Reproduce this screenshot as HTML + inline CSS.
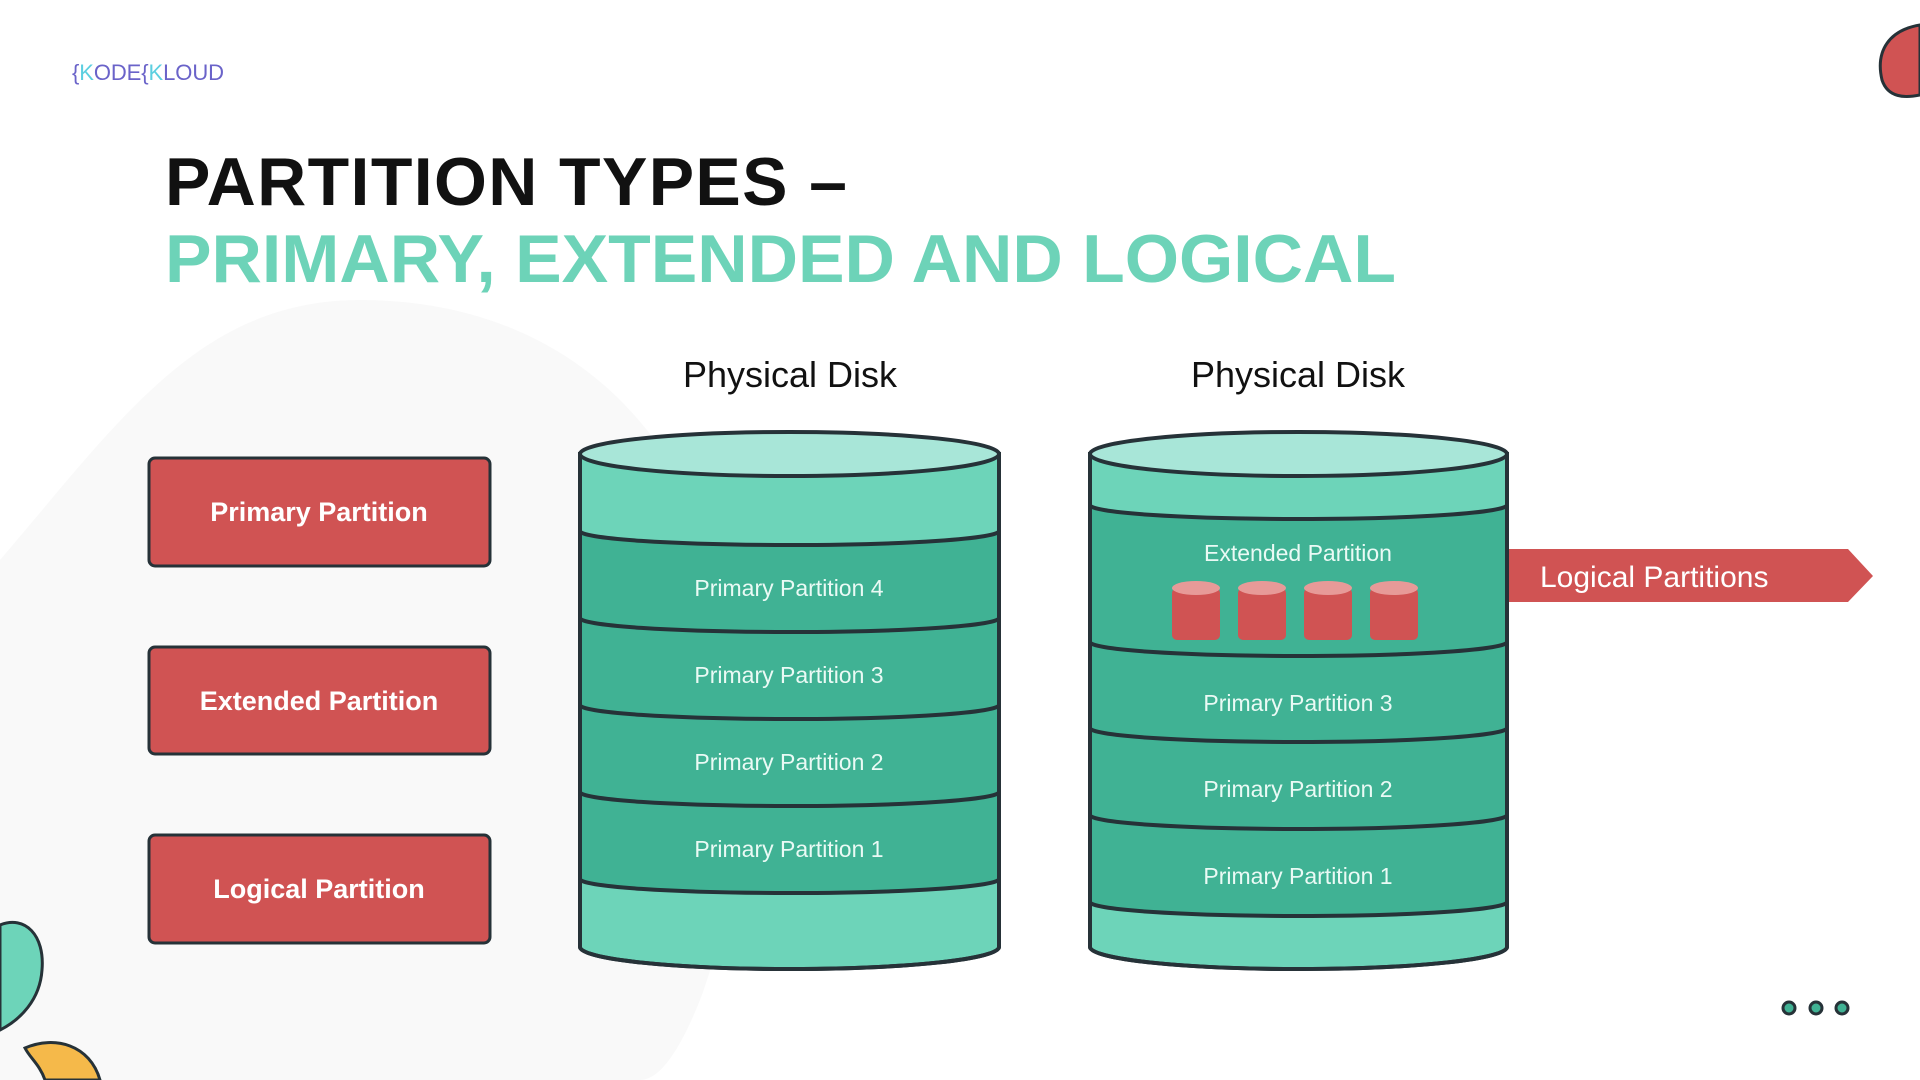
<!DOCTYPE html>
<html><head><meta charset="utf-8"><style>
html,body{margin:0;padding:0;background:#fff;}
svg{display:block;}
</style></head><body>
<svg width="1920" height="1080" viewBox="0 0 1920 1080" xmlns="http://www.w3.org/2000/svg" font-family="Liberation Sans, sans-serif">
<rect width="1920" height="1080" fill="#fff"/>
<path d="M0 560 C120 420 200 300 360 300 C520 300 640 380 700 520 C760 660 740 900 700 1000 C680 1050 660 1080 640 1080 L0 1080 Z" fill="#f9f9f9"/>
<!-- decorations -->
<path d="M1920 25 C1890 30 1875 50 1882 80 C1888 98 1905 98 1920 95 Z" fill="#d05353" stroke="#263238" stroke-width="3"/>
<path d="M0 925 C25 915 45 935 42 970 C40 1000 20 1020 0 1030 Z" fill="#6dd4b9" stroke="#263238" stroke-width="3"/>
<path d="M25 1048 C55 1035 90 1045 100 1080 L45 1080 C40 1065 30 1058 25 1048 Z" fill="#f5b94a" stroke="#263238" stroke-width="3"/>
<g fill="#40b294" stroke="#263238" stroke-width="3"><circle cx="1789" cy="1008" r="6"/><circle cx="1816" cy="1008" r="6"/><circle cx="1842" cy="1008" r="6"/></g>
<!-- logo -->
<text x="72" y="80" font-size="22" fill="#6a63c9" textLength="152">{<tspan fill="#5ccfe0">K</tspan>ODE{<tspan fill="#5ccfe0">K</tspan>LOUD</text>
<!-- title -->
<text x="165" y="205" font-size="68" font-weight="bold" fill="#111" textLength="682">PARTITION TYPES –</text>
<text x="165" y="282" font-size="68" font-weight="bold" fill="#6dd3b8" textLength="1231" lengthAdjust="spacingAndGlyphs">PRIMARY, EXTENDED AND LOGICAL</text>
<text x="790" y="387" font-size="36" fill="#111" text-anchor="middle">Physical Disk</text>
<text x="1298" y="387" font-size="36" fill="#111" text-anchor="middle">Physical Disk</text>
<!-- buttons -->
<g stroke="#263238" stroke-width="3" fill="#d05353">
<rect x="149" y="458" width="341" height="108" rx="6"/>
<rect x="149" y="647" width="341" height="107" rx="6"/>
<rect x="149" y="835" width="341" height="108" rx="6"/>
</g>
<g fill="#fff" font-size="27" font-weight="bold" text-anchor="middle">
<text x="319" y="521">Primary Partition</text>
<text x="319" y="710">Extended Partition</text>
<text x="319" y="898">Logical Partition</text>
</g>
<!-- left cylinder -->
<g stroke="#263238" stroke-width="4">
<path d="M580 454 L580 947 A209.5 22 0 0 0 999 947 L999 454 Z" fill="#6dd4b9"/>
<path d="M580 531 A209.5 14 0 0 0 999 531 L999 879 A209.5 14 0 0 1 580 879 Z" fill="#40b294" stroke="none"/>
<g fill="none">
<path d="M580 531 A209.5 14 0 0 0 999 531"/>
<path d="M580 618 A209.5 14 0 0 0 999 618"/>
<path d="M580 705 A209.5 14 0 0 0 999 705"/>
<path d="M580 792 A209.5 14 0 0 0 999 792"/>
<path d="M580 879 A209.5 14 0 0 0 999 879"/>
<path d="M580 454 L580 947 A209.5 22 0 0 0 999 947 L999 454"/>
</g>
<ellipse cx="789.5" cy="454" rx="209.5" ry="22" fill="#a8e6d8"/>
</g>
<g fill="#eafaf5" font-size="23" text-anchor="middle">
<text x="789" y="596">Primary Partition 4</text>
<text x="789" y="683">Primary Partition 3</text>
<text x="789" y="770">Primary Partition 2</text>
<text x="789" y="857">Primary Partition 1</text>
</g>
<!-- right cylinder -->
<g stroke="#263238" stroke-width="4">
<path d="M1090 454 L1090 947 A208.5 22 0 0 0 1507 947 L1507 454 Z" fill="#6dd4b9"/>
<path d="M1090 505 A208.5 14 0 0 0 1507 505 L1507 902 A208.5 14 0 0 1 1090 902 Z" fill="#40b294" stroke="none"/>
<g fill="none">
<path d="M1090 505 A208.5 14 0 0 0 1507 505"/>
<path d="M1090 642 A208.5 14 0 0 0 1507 642"/>
<path d="M1090 728 A208.5 14 0 0 0 1507 728"/>
<path d="M1090 815 A208.5 14 0 0 0 1507 815"/>
<path d="M1090 902 A208.5 14 0 0 0 1507 902"/>
<path d="M1090 454 L1090 947 A208.5 22 0 0 0 1507 947 L1507 454"/>
</g>
<ellipse cx="1298.5" cy="454" rx="208.5" ry="22" fill="#a8e6d8"/>
</g>
<g fill="#eafaf5" font-size="23" text-anchor="middle">
<text x="1298" y="561">Extended Partition</text>
<text x="1298" y="711">Primary Partition 3</text>
<text x="1298" y="797">Primary Partition 2</text>
<text x="1298" y="884">Primary Partition 1</text>
</g>
<g>
<rect x="1172" y="588" width="48" height="52" rx="5" fill="#d05353"/><ellipse cx="1196" cy="588" rx="24" ry="7" fill="#e79a98"/>
<rect x="1238" y="588" width="48" height="52" rx="5" fill="#d05353"/><ellipse cx="1262" cy="588" rx="24" ry="7" fill="#e79a98"/>
<rect x="1304" y="588" width="48" height="52" rx="5" fill="#d05353"/><ellipse cx="1328" cy="588" rx="24" ry="7" fill="#e79a98"/>
<rect x="1370" y="588" width="48" height="52" rx="5" fill="#d05353"/><ellipse cx="1394" cy="588" rx="24" ry="7" fill="#e79a98"/>
</g>
<!-- arrow -->
<path d="M1509 549 L1848 549 L1873 576 L1848 602 L1509 602 Z" fill="#d05353"/>
<text x="1540" y="587" font-size="30" fill="#fff">Logical Partitions</text>
</svg>
</body></html>
